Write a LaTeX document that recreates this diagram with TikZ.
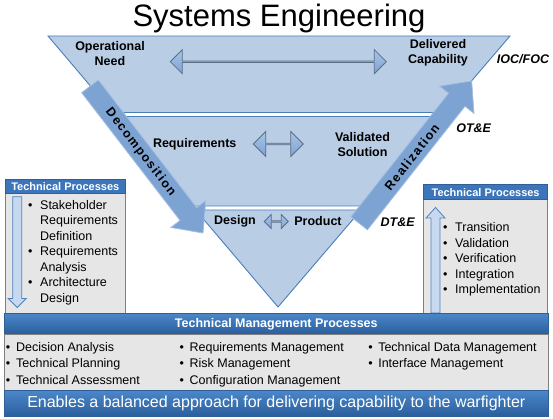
\documentclass[tikz,border=0pt]{standalone}
\usepackage{fontspec}
\setmainfont{Liberation Sans}
\newfontfamily\spacedfont[LetterSpace=11]{Liberation Sans}
\usetikzlibrary{shapes.arrows}
\definecolor{triFill}{HTML}{B9CDE5}
\definecolor{triLine}{HTML}{4A7EBB}
\definecolor{bigFill}{HTML}{7DA3D3}
\definecolor{bigLine}{HTML}{A3BFE3}
\definecolor{dTop}{HTML}{A9C5E8}
\definecolor{dBot}{HTML}{7CA2D2}
\definecolor{dLine}{HTML}{5C6E86}
\definecolor{hdrBlue}{HTML}{3C75B9}
\definecolor{hdrLine}{HTML}{2F5F96}
\definecolor{grayFill}{HTML}{E6E6E6}
\definecolor{grayLine}{HTML}{7F7F7F}
\definecolor{barTop}{HTML}{4B87C9}
\definecolor{barBot}{HTML}{2A5E9C}
\definecolor{boxArrFill}{HTML}{C6D9F1}
\definecolor{boxArrLine}{HTML}{4F81BD}
\begin{document}
\begin{tikzpicture}[x=1pt,y=-1pt,
  band/.style={fill=triFill,draw=triLine,line width=0.9pt,line join=miter},
  bigarrow/.style={fill=bigFill,draw=bigLine,line width=0.8pt},
  darrow/.style={double arrow,double arrow head indent=0pt,inner sep=0pt,
    top color=dTop,bottom color=dBot,draw=dLine,line width=0.8pt},
  lbl/.style={font=\fontsize{12.5}{15.3}\selectfont\bfseries,align=center,inner sep=0pt},
  milestone/.style={font=\fontsize{12.5}{15}\selectfont\bfseries\itshape,inner sep=0pt},
  arrlbl/.style={font=\spacedfont\bfseries\fontsize{12.5}{14}\selectfont,inner sep=0pt},
  graybox/.style={fill=grayFill,draw=grayLine,line width=0.8pt},
  hdr/.style={fill=hdrBlue,draw=hdrLine,line width=0.6pt,text=white,inner sep=0pt,
    font=\fontsize{11}{13}\selectfont\bfseries},
  bar/.style={top color=barTop,bottom color=barBot,draw=hdrLine,line width=0.6pt,
    text=white,inner sep=0pt},
  boxarrow/.style={fill=boxArrFill,draw=boxArrLine,line width=0.8pt},
  listtxt/.style={font=\fontsize{12.5}{15.5}\selectfont,inner sep=0pt,anchor=base west},
  mgmttxt/.style={font=\fontsize{12.5}{16.3}\selectfont,inner sep=0pt,anchor=base west}
]
\useasboundingbox (0,0) rectangle (553,419);

% Title
\node[font=\fontsize{31}{36}\selectfont,anchor=base,inner sep=0pt] (title) at (279,27) {Systems Engineering};

% Triangle bands
\draw[band] (48,36) -- (510,36) -- (444.5,112.5) -- (112.9,112.5) -- cycle;
\draw[band] (116.3,116.5) -- (441.1,116.5) -- (364.5,206) -- (192.3,206) -- cycle;
\draw[band] (195.7,210) -- (361.0,210) -- (278,307) -- cycle;

% Band labels
\node[lbl] (opneed) at (110,53.3) {Operational\\Need};
\node[lbl] (delcap) at (438,53) {Delivered\\Capability};
\node[milestone] (iocfoc) at (523,59.5) {IOC/FOC};
\node[darrow,minimum height=216,minimum width=24,double arrow head extend=6] (arr1) at (278.3,61.7) {};

\node[lbl] (req) at (194.7,144.3) {Requirements};
\node[lbl] (valsol) at (362.5,144.2) {Validated\\Solution};
\node[milestone] (ote) at (473.7,128.3) {OT\&E};
\node[darrow,minimum height=50,minimum width=25,double arrow head extend=6.5] (arr2) at (278.3,144) {};

\node[lbl] (design) at (235,221.3) {Design};
\node[lbl] (product) at (318,221.3) {Product};
\node[milestone] (dte) at (397.7,222) {DT\&E};
\node[darrow,minimum height=24,minimum width=14,double arrow head extend=3.5] (arr3) at (276.3,221.5) {};

% Decomposition arrow
\begin{scope}[shift={(90,86.3)},rotate=-52.4]
  \draw[bigarrow] (0,-10.5) -- (161.2,-10.5) -- (161.2,-22) -- (185.2,0) -- (161.2,22) -- (161.2,10.5) -- (0,10.5) -- cycle;
\end{scope}
\node[arrlbl,rotate=-52.4] (decomp) at (140.6,152.1) {Decomposition};

% Realization arrow
\begin{scope}[shift={(359.2,223.3)},rotate=51.7]
  \draw[bigarrow] (0,-10.5) -- (157.4,-10.5) -- (157.4,-22) -- (181.4,0) -- (157.4,22) -- (157.4,10.5) -- (0,10.5) -- cycle;
\end{scope}
\node[arrlbl,rotate=51.7] (realiz) at (411.9,157.2) {Realization};

% Left technical processes box
\draw[graybox] (5,179.3) rectangle (125,313);
\node[hdr,minimum width=120,minimum height=13.5,anchor=north west] (lhdr) at (5,179.3) {Technical Processes};
\draw[boxarrow] (12.7,196.7) -- (21.7,196.7) -- (21.7,298.5) -- (26.2,298.5) -- (17.2,307.5) -- (8.2,298.5) -- (12.7,298.5) -- cycle;
\node[listtxt] (llist) at (27.8,209.5) {\begin{tabular}[t]{@{}l@{\hspace{7.8pt}}l@{}}
\textbullet & Stakeholder\\ & Requirements\\ & Definition\\
\textbullet & Requirements\\ & Analysis\\
\textbullet & Architecture\\ & Design\end{tabular}};

% Right technical processes box
\draw[graybox] (423.3,184.3) rectangle (547.3,313);
\node[hdr,minimum width=124,minimum height=15,anchor=north west] (rhdr) at (423.3,184.3) {Technical Processes};
\draw[boxarrow] (431,313) -- (431,218) -- (426,218) -- (435.5,207.5) -- (445,218) -- (440,218) -- (440,313) -- cycle;
\node[listtxt,font=\fontsize{12.5}{15.35}\selectfont] (rlist) at (442.8,232) {\begin{tabular}[t]{@{}l@{\hspace{7.8pt}}l@{}}
\textbullet & Transition\\
\textbullet & Validation\\
\textbullet & Verification\\
\textbullet & Integration\\
\textbullet & Implementation\end{tabular}};

% Technical management processes
\node[bar,minimum width=544,minimum height=21,anchor=north west,
  font=\fontsize{12.5}{15}\selectfont\bfseries] (mgmt) at (4,313) {Technical Management Processes};
\draw[graybox] (4,334) rectangle (548,390);
\node[mgmttxt] (mcol1) at (5.6,351.5) {\begin{tabular}[t]{@{}l@{\hspace{6pt}}l@{}}
\textbullet & Decision Analysis\\
\textbullet & Technical Planning\\
\textbullet & Technical Assessment\end{tabular}};
\node[mgmttxt] (mcol2) at (179.5,351.5) {\begin{tabular}[t]{@{}l@{\hspace{5.5pt}}l@{}}
\textbullet & Requirements Management\\
\textbullet & Risk Management\\
\textbullet & Configuration Management\end{tabular}};
\node[mgmttxt] (mcol3) at (368.2,351.5) {\begin{tabular}[t]{@{}l@{\hspace{5.5pt}}l@{}}
\textbullet & Technical Data Management\\
\textbullet & Interface Management\end{tabular}};

% Bottom bar
\node[bar,minimum width=544,minimum height=26,anchor=north west,
  font=\fontsize{16}{19}\selectfont] (enable) at (4,390) {Enables a balanced approach for delivering capability to the warfighter};
\end{tikzpicture}
\end{document}
